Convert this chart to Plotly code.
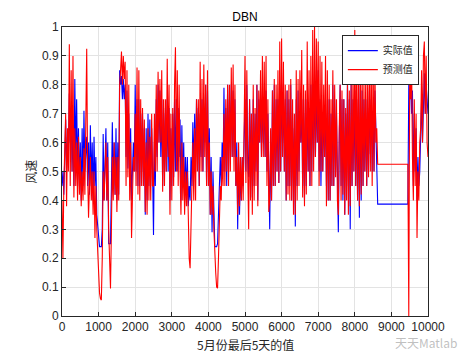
import numpy as np
import plotly.graph_objects as go

step = 25
actual = [
    0.45, 0.5, 0.42, 0.55, 0.68, 0.5, 0.62, 0.55, 0.77, 0.6, 0.72, 0.5, 0.65, 0.45, 0.82, 0.55, 0.75, 0.5, 0.65, 0.45,
    0.6, 0.4, 0.65, 0.45, 0.71, 0.5, 0.6, 0.62, 0.45, 0.6, 0.42, 0.66, 0.45, 0.6, 0.4, 0.62, 0.45, 0.55, 0.35, 0.3,
    0.25, 0.24, 0.24, 0.24, 0.3, 0.63, 0.4, 0.55, 0.65, 0.4, 0.6, 0.25, 0.25, 0.25, 0.45, 0.67, 0.45, 0.6, 0.42, 0.65,
    0.4, 0.6, 0.42, 0.85, 0.8, 0.83, 0.75, 0.82, 0.75, 0.8, 0.55, 0.78, 0.51, 0.7, 0.45, 0.65, 0.4, 0.5, 0.6, 0.5,
    0.8, 0.5, 0.75, 0.45, 0.75, 0.45, 0.7, 0.5, 0.7, 0.45, 0.65, 0.35, 0.65, 0.4, 0.7, 0.45, 0.68, 0.45, 0.65, 0.5,
    0.28, 0.6, 0.45, 0.75, 0.55, 0.8, 0.6, 0.78, 0.55, 0.75, 0.45, 0.72, 0.5, 0.7, 0.5, 0.75, 0.5, 0.72, 0.4, 0.65,
    0.45, 0.7, 0.48, 0.75, 0.5, 0.75, 0.5, 0.72, 0.55, 0.68, 0.4, 0.66, 0.45, 0.6, 0.4, 0.55, 0.42, 0.55, 0.38, 0.45,
    0.4, 0.55, 0.45, 0.67, 0.5, 0.7, 0.5, 0.75, 0.55, 0.72, 0.45, 0.7, 0.55, 0.75, 0.5, 0.72, 0.6, 0.8, 0.45, 0.78,
    0.5, 0.65, 0.35, 0.55, 0.29, 0.5, 0.3, 0.24, 0.24, 0.24, 0.25, 0.35, 0.4, 0.55, 0.45, 0.6, 0.5, 0.79, 0.5, 0.72,
    0.45, 0.8, 0.5, 0.75, 0.6, 0.8, 0.55, 0.78, 0.55, 0.75, 0.45, 0.6, 0.3, 0.55, 0.35, 0.5, 0.4, 0.55, 0.45, 0.7,
    0.75, 0.5, 0.8, 0.55, 0.48, 0.75, 0.45, 0.7, 0.41, 0.75, 0.45, 0.7, 0.5, 0.8, 0.4, 0.75, 0.6, 0.78, 0.55, 0.75,
    0.6, 0.75, 0.55, 0.78, 0.5, 0.7, 0.45, 0.3, 0.6, 0.4, 0.78, 0.45, 0.8, 0.45, 0.75, 0.5, 0.75, 0.46, 0.8, 0.5,
    0.8, 0.6, 0.75, 0.5, 0.75, 0.4, 0.78, 0.45, 0.75, 0.45, 0.8, 0.4, 0.7, 0.45, 0.65, 0.31, 0.75, 0.45, 0.78, 0.5,
    0.7, 0.6, 0.75, 0.45, 0.7, 0.4, 0.75, 0.45, 0.75, 0.5, 0.72, 0.45, 0.8, 0.5, 0.78, 0.55, 0.85, 0.55, 0.8, 0.6,
    0.85, 0.5, 0.75, 0.45, 0.7, 0.5, 0.72, 0.55, 0.75, 0.45, 0.7, 0.4, 0.75, 0.4, 0.7, 0.45, 0.8, 0.45, 0.75, 0.5,
    0.7, 0.45, 0.29, 0.6, 0.8, 0.45, 0.75, 0.4, 0.75, 0.35, 0.7, 0.45, 0.82, 0.4, 0.75, 0.3, 0.8, 0.45, 0.75, 0.5,
    0.78, 0.45, 0.75, 0.4, 0.75, 0.34, 0.8, 0.4, 0.78, 0.45, 0.75, 0.5, 0.75, 0.45, 0.72, 0.5, 0.78, 0.56, 0.75, 0.5,
    0.7, 0.5, 0.78, 0.65, 0.48, 0.387, 0.387, 0.387, 0.387, 0.387, 0.387, 0.387, 0.387, 0.387, 0.387, 0.387, 0.387, 0.387, 0.387, 0.387,
    0.387, 0.387, 0.387, 0.387, 0.387, 0.387, 0.387, 0.387, 0.387, 0.387, 0.387, 0.387, 0.387, 0.387, 0.387, 0.387, 0.387, 0.387, 0.387, 0.8,
    0.75, 0.8, 0.7, 0.78, 0.45, 0.7, 0.5, 0.65, 0.4, 0.55, 0.45, 0.5, 0.6, 0.75, 0.6, 0.8, 0.84, 0.7, 0.8, 0.75,
    0.7,
]
predicted = [
    0.4, 0.2, 0.45, 0.6, 0.7, 0.38, 0.65, 0.5, 0.94, 0.45, 0.85, 0.5, 0.9, 0.41, 0.65, 0.45, 0.6, 0.4, 0.62, 0.42,
    0.55, 0.38, 0.5, 0.4, 0.58, 0.42, 0.6, 0.925, 0.5, 0.34, 0.45, 0.55, 0.4, 0.5, 0.35, 0.5, 0.27, 0.45, 0.3, 0.2,
    0.13, 0.08, 0.06, 0.055, 0.2, 0.5, 0.4, 0.55, 0.6, 0.4, 0.55, 0.3, 0.15, 0.095, 0.3, 0.55, 0.4, 0.6, 0.42, 0.55,
    0.36, 0.55, 0.4, 0.8, 0.85, 0.915, 0.8, 0.9, 0.82, 0.88, 0.45, 0.85, 0.48, 0.8, 0.4, 0.6, 0.27, 0.45, 0.55, 0.5,
    0.7, 0.45, 0.86, 0.42, 0.85, 0.4, 0.75, 0.45, 0.72, 0.45, 0.68, 0.36, 0.6, 0.35, 0.65, 0.4, 0.62, 0.4, 0.7, 0.45,
    0.45, 0.7, 0.5, 0.8, 0.5, 0.845, 0.6, 0.82, 0.6, 0.85, 0.43, 0.75, 0.45, 0.75, 0.5, 0.89, 0.55, 0.8, 0.35, 0.7,
    0.4, 0.72, 0.45, 0.8, 0.93, 0.5, 0.85, 0.45, 0.8, 0.5, 0.35, 0.6, 0.4, 0.55, 0.35, 0.5, 0.38, 0.5, 0.3, 0.2,
    0.165, 0.35, 0.45, 0.6, 0.4, 0.65, 0.4, 0.75, 0.5, 0.75, 0.45, 0.88, 0.5, 0.82, 0.5, 0.87, 0.55, 0.8, 0.45, 0.85,
    0.45, 0.6, 0.35, 0.5, 0.35, 0.45, 0.3, 0.2, 0.15, 0.1, 0.096, 0.2, 0.35, 0.45, 0.4, 0.55, 0.45, 0.7, 0.45, 0.75,
    0.5, 0.8, 0.45, 0.8, 0.5, 0.86, 0.55, 0.87, 0.5, 0.8, 0.45, 0.55, 0.35, 0.6, 0.38, 0.55, 0.4, 0.55, 0.4, 0.75,
    0.9, 0.46, 0.85, 0.5, 0.3, 0.75, 0.4, 0.7, 0.35, 0.8, 0.4, 0.72, 0.45, 0.8, 0.38, 0.78, 0.6, 0.85, 0.55, 0.9,
    0.55, 0.88, 0.55, 0.9, 0.45, 0.75, 0.36, 0.4, 0.65, 0.4, 0.78, 0.45, 0.82, 0.45, 0.8, 0.5, 0.85, 0.46, 0.95, 0.5,
    0.96, 0.55, 0.88, 0.5, 0.8, 0.4, 0.78, 0.42, 0.8, 0.4, 0.82, 0.4, 0.75, 0.35, 0.7, 0.35, 0.85, 0.4, 0.82, 0.45,
    0.85, 0.6, 0.92, 0.41, 0.8, 0.38, 0.78, 0.42, 0.95, 0.5, 0.85, 0.45, 0.9, 0.45, 0.99, 0.5, 1.0, 0.55, 0.96, 0.6,
    0.95, 0.45, 0.9, 0.5, 0.88, 0.5, 0.8, 0.55, 0.9, 0.38, 0.85, 0.4, 0.8, 0.4, 0.75, 0.45, 0.85, 0.45, 0.8, 0.48,
    0.75, 0.4, 0.35, 0.65, 0.8, 0.4, 0.78, 0.42, 0.75, 0.35, 0.72, 0.4, 0.8, 0.35, 0.78, 0.38, 0.8, 0.45, 0.82, 0.5,
    0.99, 0.45, 0.9, 0.4, 0.85, 0.38, 0.85, 0.42, 0.85, 0.45, 0.8, 0.5, 0.85, 0.45, 0.8, 0.48, 0.9, 0.5, 0.85, 0.45,
    0.9, 0.5, 0.85, 0.6, 0.65, 0.525, 0.525, 0.525, 0.525, 0.525, 0.525, 0.525, 0.525, 0.525, 0.525, 0.525, 0.525, 0.525, 0.525, 0.525,
    0.525, 0.525, 0.525, 0.525, 0.525, 0.525, 0.525, 0.525, 0.525, 0.525, 0.525, 0.525, 0.525, 0.525, 0.525, 0.525, 0.525, 0.525, 0.525, 0.0,
    0.85, 0.75, 0.9, 0.55, 0.4, 0.75, 0.45, 0.7, 0.27, 0.5, 0.4, 0.6, 0.65, 0.85, 0.6, 0.9, 0.95, 0.7, 0.9, 0.6,
    0.55,
]
x_actual = np.arange(len(actual)) * step
x_pred = np.arange(len(predicted)) * step
x_ticks = [0, 1000, 2000, 3000, 4000, 5000, 6000, 7000, 8000, 9000, 10000]
x_tick_text = ["0", "1000", "2000", "3000", "4000", "5000", "6000", "7000", "8000", "9000", "10000"]
y_ticks = [0, 0.1, 0.2, 0.3, 0.4, 0.5, 0.6, 0.7, 0.8, 0.9, 1]
y_tick_text = ["0", "0.1", "0.2", "0.3", "0.4", "0.5", "0.6", "0.7", "0.8", "0.9", "1"]

fig = go.Figure()
fig.add_trace(go.Scatter(x=x_actual, y=actual, mode="lines", name="实际值",
                         line=dict(color="#0000ff", width=1.1)))
fig.add_trace(go.Scatter(x=x_pred, y=predicted, mode="lines", name="预测值",
                         line=dict(color="#ff0000", width=1.1)))

axis_common = dict(showgrid=True, gridcolor="#e3e3e3", gridwidth=1,
                   showline=True, linecolor="#262626", linewidth=1, mirror=True,
                   ticks="inside", ticklen=4, tickcolor="#262626",
                   tickfont=dict(family="Liberation Sans, Arial", size=12, color="#262626"),
                   zeroline=False, automargin=False)
fig.update_xaxes(range=[0, 10000], tickvals=x_ticks, ticktext=x_tick_text, **axis_common)
fig.update_yaxes(range=[0, 1], tickvals=y_ticks, ticktext=y_tick_text, **axis_common)

# the page adds an 8px body margin, so the figure is sized to fit the window
fig.update_layout(
    width=466, height=347,
    margin=dict(l=54, r=46, t=19, b=39, autoexpand=False),
    paper_bgcolor="white", plot_bgcolor="white",
    title=dict(text="DBN", x=0.5, xref="paper", xanchor="center",
               y=1 - 9 / 347, yref="container", yanchor="middle",
               font=dict(family="Liberation Sans, Arial", size=12, color="#000000")),
    legend=dict(x=0.975, y=0.972, xanchor="right", yanchor="top",
                bgcolor="white", bordercolor="#262626", borderwidth=1,
                font=dict(family="Noto Sans CJK SC", size=10, color="#262626"),
                tracegroupgap=0, itemwidth=30),
    showlegend=True,
)
fig.add_annotation(text="5月份最后5天的值", xref="paper", yref="paper",
                   x=0.5, y=-0.1, xanchor="center", yanchor="middle", showarrow=False,
                   font=dict(family="Noto Sans CJK SC", size=12, color="#262626"))
fig.add_annotation(text="风速", xref="paper", yref="paper", textangle=-90,
                   x=-0.087, y=0.5, xanchor="center", yanchor="middle", showarrow=False,
                   font=dict(family="Noto Sans CJK SC", size=12, color="#262626"))
fig.add_annotation(text="天天Matlab", xref="paper", yref="paper",
                   x=1.085, y=-0.09, xanchor="right", yanchor="middle",
                   showarrow=False,
                   font=dict(family="Noto Sans CJK SC", size=12, color="rgba(150,150,150,0.6)"))

fig.write_html("out.html")
